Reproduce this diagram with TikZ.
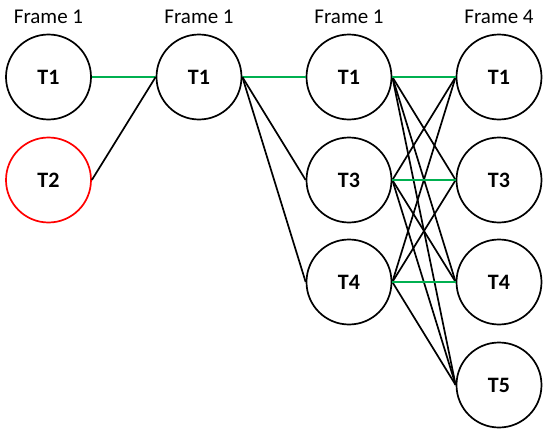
\documentclass[tikz,border=0pt]{standalone}
\usepackage{fontspec}
\setmainfont{Carlito}
\definecolor{lgreen}{RGB}{0,176,80}
\definecolor{lred}{RGB}{255,0,0}
\tikzset{
  tnode/.style={circle, draw=black, line width=1.7pt, minimum size=85pt, inner sep=0pt, font=\fontsize{22}{26}\selectfont\bfseries},
  rnode/.style={tnode, draw=lred},
  flabel/.style={font=\fontsize{21}{25}\selectfont},
  gedge/.style={draw=lgreen, line width=2pt},
  bedge/.style={draw=black, line width=1.7pt}
}
\begin{document}
\begin{tikzpicture}[x=1pt,y=-1pt]
\useasboundingbox (0,0) rectangle (550,434);
\node[flabel] (f1) at (48.5,17) {Frame 1};
\node[flabel] (f2) at (199,17) {Frame 1};
\node[flabel] (f3) at (349,17) {Frame 1};
\node[flabel] (f4) at (499,17) {Frame 4};
\node[tnode] (a1) at (48.5,77) {T1};
\node[rnode] (a2) at (48.5,180) {T2};
\node[tnode] (b1) at (199,77) {T1};
\node[tnode] (c1) at (349,77) {T1};
\node[tnode] (c3) at (349,180) {T3};
\node[tnode] (c4) at (349,282) {T4};
\node[tnode] (d1) at (499,77) {T1};
\node[tnode] (d3) at (499,180) {T3};
\node[tnode] (d4) at (499,282) {T4};
\node[tnode] (d5) at (499,385) {T5};
\draw[gedge] (a1.east) -- (b1.west);
\draw[bedge] (a2.east) -- (b1.west);
\draw[gedge] (b1.east) -- (c1.west);
\draw[bedge] (b1.east) -- (c3.west);
\draw[bedge] (b1.east) -- (c4.west);
\draw[bedge] (c1.east) -- (d3.west);
\draw[bedge] (c1.east) -- (d4.west);
\draw[bedge] (c1.east) -- (d5.west);
\draw[bedge] (c3.east) -- (d1.west);
\draw[bedge] (c3.east) -- (d4.west);
\draw[bedge] (c3.east) -- (d5.west);
\draw[bedge] (c4.east) -- (d1.west);
\draw[bedge] (c4.east) -- (d3.west);
\draw[bedge] (c4.east) -- (d5.west);
\draw[gedge] (c1.east) -- (d1.west);
\draw[gedge] (c3.east) -- (d3.west);
\draw[gedge] (c4.east) -- (d4.west);
\end{tikzpicture}
\end{document}
